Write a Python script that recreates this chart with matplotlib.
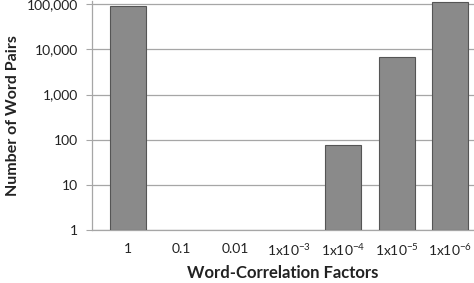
import numpy as np
import matplotlib.pyplot as plt
from matplotlib.ticker import FixedLocator, FuncFormatter, NullLocator

plt.rcParams['font.family'] = ['Lato', 'DejaVu Sans']
plt.rcParams['mathtext.fontset'] = 'custom'
plt.rcParams['mathtext.rm'] = 'Lato'
plt.rcParams['mathtext.it'] = 'Lato'

# Word-correlation factor categories and counts of word pairs
factors = ['1', '0.1', '0.01', '1x10$^{-3}$', '1x10$^{-4}$', '1x10$^{-5}$', '1x10$^{-6}$']
pairs = [90000, 0, 0, 0, 76, 6700, 110000]
yticks = [1, 10, 100, 1000, 10000, 100000]

fig = plt.figure(figsize=(4.74, 2.83), dpi=100)
ax = fig.add_axes([0.194, 0.187, 0.806, 0.808])

x = np.arange(len(factors))
vals = np.array(pairs, dtype=float)
mask = vals > 0
ax.bar(x[mask], vals[mask], width=0.67, bottom=1, color='#8a8a8a',
       edgecolor='#555555', linewidth=0.8, zorder=3)

ax.set_yscale('log')
ax.set_ylim(1, 115000)
ax.set_xlim(-0.67, 6.44)
ax.yaxis.set_major_locator(FixedLocator(yticks))
ax.yaxis.set_minor_locator(NullLocator())
ax.yaxis.set_major_formatter(FuncFormatter(lambda v, p: '{:,}'.format(int(round(v)))))
ax.grid(axis='y', color='#a6a6a6', linewidth=0.9, zorder=0)

ax.set_xticks(x)
ax.set_xticklabels(factors)
ax.tick_params(axis='x', length=0, pad=9, labelsize=10, colors='#222222')
ax.tick_params(axis='y', length=4, width=0.8, pad=6, labelsize=10,
               colors='#a6a6a6', labelcolor='#222222')

for s in ['top', 'right']:
    ax.spines[s].set_visible(False)
for s in ['left', 'bottom']:
    ax.spines[s].set_color('#a6a6a6')
    ax.spines[s].set_linewidth(0.9)

ax.set_ylabel('Number of Word Pairs', fontsize=11.5, fontweight='bold', color='#222222', labelpad=5)
ax.set_xlabel('Word-Correlation Factors', fontsize=12, fontweight='bold', color='#222222', labelpad=5)

fig.savefig('out.png', dpi=100)
